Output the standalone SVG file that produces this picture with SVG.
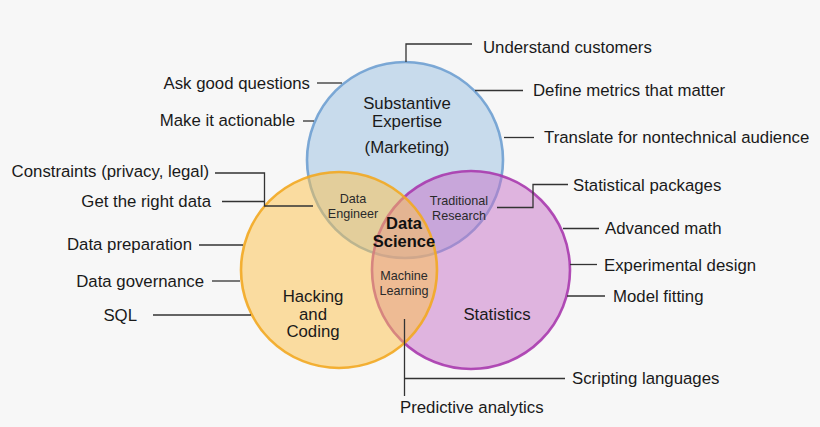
<svg xmlns="http://www.w3.org/2000/svg" width="820" height="427" viewBox="0 0 820 427">
<style>
text{font-family:"Liberation Sans",Arial,sans-serif;fill:#1a1a1a}
.lbl{font-size:16.8px}
.big{font-size:16.8px;text-anchor:middle}
.sm{font-size:12.6px;text-anchor:middle;fill:#2a2a2a}
.bold{font-size:16.5px;font-weight:bold;text-anchor:middle;fill:#111}
.end{text-anchor:end}
.ln{fill:none;stroke:#333;stroke-width:1.3}
.c{stroke-width:2.6}
</style>
<rect width="820" height="427" fill="#f7f7f7"/>
<g id="circle-expertise">
<circle class="c" cx="405" cy="160" r="98" fill="#99bfe1" fill-opacity="0.5" stroke="#6fa0d2" stroke-opacity="0.9"/>
</g>
<g id="circle-statistics">
<circle class="c" cx="471" cy="270" r="99" fill="#c771c7" fill-opacity="0.5" stroke="#a83aae" stroke-opacity="0.9"/>
</g>
<g id="circle-hacking">
<circle class="c" cx="339" cy="270" r="98" fill="#fdc149" fill-opacity="0.5" stroke="#f2a922" stroke-opacity="0.9"/>
</g>
<g id="connectors">
<polyline class="ln" points="406,62 406,44 472,44"/>
<line class="ln" x1="475" y1="90.5" x2="523" y2="90.5"/>
<line class="ln" x1="504" y1="137.5" x2="534" y2="137.5"/>
<line class="ln" x1="317" y1="83" x2="342" y2="83"/>
<line class="ln" x1="303" y1="121" x2="314" y2="121"/>
<polyline class="ln" points="215,173 264.5,173 264.5,206 313,206"/>
<line class="ln" x1="222" y1="201.5" x2="264.5" y2="201.5"/>
<line class="ln" x1="199" y1="245" x2="243" y2="245"/>
<line class="ln" x1="212" y1="281" x2="240" y2="281"/>
<line class="ln" x1="153" y1="315" x2="251" y2="315"/>
<polyline class="ln" points="568,184.5 533,184.5 533,207.5 497,207.5"/>
<line class="ln" x1="563" y1="228.5" x2="599" y2="228.5"/>
<line class="ln" x1="570" y1="264.5" x2="597" y2="264.5"/>
<line class="ln" x1="567" y1="296" x2="605" y2="296"/>
<line class="ln" x1="404.5" y1="319" x2="404.5" y2="396"/>
<line class="ln" x1="404.5" y1="378.5" x2="565" y2="378.5"/>
</g>
<g id="node-expertise">
<text class="big" x="407" y="109">Substantive</text>
<text class="big" x="407" y="127">Expertise</text>
<text class="big" x="407" y="153">(Marketing)</text>
</g>
<g id="node-hacking">
<text class="big" x="313" y="302">Hacking</text>
<text class="big" x="313" y="319.5">and</text>
<text class="big" x="313" y="337">Coding</text>
</g>
<g id="node-statistics">
<text class="big" x="497" y="320">Statistics</text>
</g>
<g id="node-data-engineer">
<text class="sm" x="353" y="203">Data</text>
<text class="sm" x="353" y="217.5">Engineer</text>
</g>
<g id="node-traditional-research">
<text class="sm" x="459" y="205">Traditional</text>
<text class="sm" x="459" y="219.5">Research</text>
</g>
<g id="node-machine-learning">
<text class="sm" x="404" y="280">Machine</text>
<text class="sm" x="404" y="294.5">Learning</text>
</g>
<g id="node-data-science">
<text class="bold" x="404" y="228.5">Data</text>
<text class="bold" x="404" y="246.5">Science</text>
</g>
<g id="labels">
<text class="lbl" x="483" y="52.5">Understand customers</text>
<text class="lbl" x="533" y="96">Define metrics that matter</text>
<text class="lbl" x="544" y="143">Translate for nontechnical audience</text>
<text class="lbl end" x="310" y="89">Ask good questions</text>
<text class="lbl end" x="295" y="126">Make it actionable</text>
<text class="lbl end" x="209" y="177">Constraints (privacy, legal)</text>
<text class="lbl end" x="211" y="207">Get the right data</text>
<text class="lbl end" x="192" y="249.5">Data preparation</text>
<text class="lbl end" x="204" y="286.5">Data governance</text>
<text class="lbl end" x="137" y="320.5">SQL</text>
<text class="lbl" x="573" y="191">Statistical packages</text>
<text class="lbl" x="605" y="234">Advanced math</text>
<text class="lbl" x="604" y="270.5">Experimental design</text>
<text class="lbl" x="613" y="302">Model fitting</text>
<text class="lbl" x="572" y="384">Scripting languages</text>
<text class="lbl" x="400" y="413">Predictive analytics</text>
</g>
</svg>
